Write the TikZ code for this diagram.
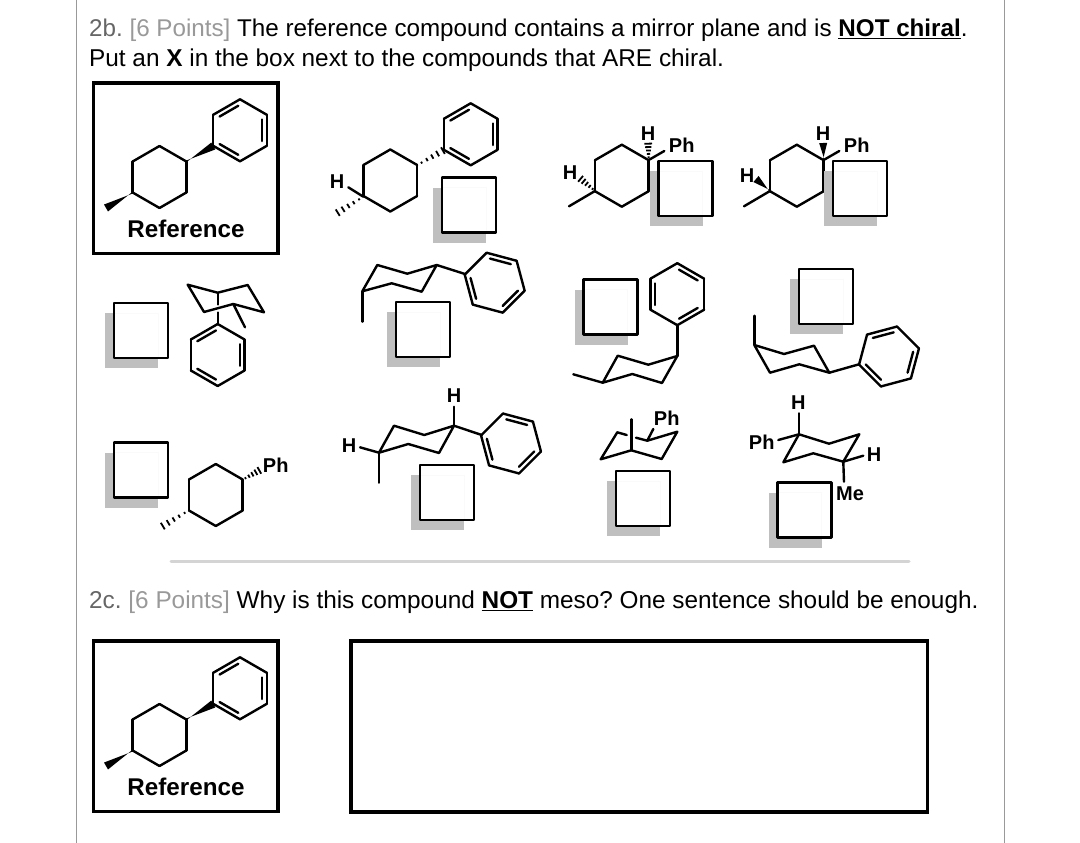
\documentclass[tikz,border=0pt]{standalone}
\usepackage{fontspec}
\setmainfont{Liberation Sans}
\usetikzlibrary{calc}
\definecolor{shadegray}{gray}{0.75}
\definecolor{rulegray}{gray}{0.83}
\definecolor{pagegray}{gray}{0.6}
\definecolor{faintgray}{gray}{0.98}
\definecolor{pointsgray}{gray}{0.6}
\definecolor{numbergray}{gray}{0.4}
\tikzset{
    bond/.style={line width=2.4pt,line cap=round,line join=round},
    framebox/.style={line width=3.7pt},
    chemlabel/.style={inner sep=0pt,font=\bfseries\fontsize{20}{20}\selectfont},
    headline/.style={inner sep=0pt,anchor=base west,font=\fontsize{#1}{25}\selectfont}
}
% answer box with its shadow, #1 #2 = top left
\newcommand{\answerbox}[2]{
    \fill[shadegray] (#1-9,#2+10) rectangle ++(53,55);
    \fill[white] (#1,#2) rectangle ++(54,55);
    \draw[faintgray,line width=.6pt] (#1,#2+10) -- (#1+44,#2+10) -- (#1+44,#2+55);
    \draw[bond] (#1,#2) rectangle ++(54,55);
}
% benzene ring, #1 #2 = centre, #3 = turn
\newcommand{\phring}[3]{
    \begin{scope}[shift={(#1,#2)}]
        \foreach \a in {30,90,...,330}
            \draw[bond] ({\a+#3}:31) -- ({\a+60+#3}:31);
        \foreach \m in {0,120,240}
            \draw[bond] ({\m+#3-26}:24.6) -- ({\m+#3+26}:24.6);
    \end{scope}
}
% flat cyclohexane, #1 #2 = centre
\newcommand{\flatring}[2]{
    \begin{scope}[shift={(#1,#2)}]
        \foreach \a in {30,90,...,330}
            \draw[bond] (\a:31) -- (\a+60:31);
    \end{scope}
}
\newcommand{\wedgebond}[2]{
    \fill ($#1!.8pt!90:#2$) -- ($#2!4pt!90:#1$) -- ($#2!4pt!-90:#1$) -- ($#1!.8pt!-90:#2$) -- cycle;
}
\newcommand{\hashbond}[2]{
    \foreach \t/\w in {.16/1,.36/1.7,.56/2.4,.76/3.1,.96/3.8} {
        \coordinate (hp) at ($#1!\t!#2$);
        \draw[line width=1.8pt] ($(hp)!\w pt!90:#2$) -- ($(hp)!\w pt!-90:#2$);
    }
}
\begin{document}
\frenchspacing
\begin{tikzpicture}[x=1pt,y=-1pt]
    \useasboundingbox (0,0) rectangle (1080,843);
    % page edges
    \draw[pagegray,line width=1pt] (76,0) -- (76,843);
    \draw[pagegray,line width=1pt] (1004,0) -- (1004,843);
    \draw[rulegray,line width=3pt,line cap=round] (171,561) -- (909,561);

    \node[headline=24.2] (headA) at (89,36.8) {\textcolor{numbergray}{2b.} \textcolor{pointsgray}{[6 Points]} The reference compound contains a mirror plane and is \textbf{\underline{NOT chiral}}.};
    \node[headline=24.35] (headB) at (89,66.7) {Put an \textbf{X} in the box next to the compounds that ARE chiral.};
    \node[headline=24.35] (headC) at (89,608.3) {\textcolor{numbergray}{2c.} \textcolor{pointsgray}{[6 Points]} Why is this compound \textbf{\underline{NOT}} meso? One sentence should be enough.};
    \draw[framebox] (351,641) rectangle (927.5,812);

    % reference frames
    \foreach \dy in {0,558} {
        \begin{scope}[shift={(0,\dy)}]
            \draw[framebox] (93.5,83) rectangle (278,253.5);
            \flatring{159.5}{177}
            \phring{240}{130.3}{0}
            \wedgebond{(186.4,161.3)}{(213.3,146)}
            \wedgebond{(132.6,192.7)}{(106,208)}
            \node[inner sep=0pt,font=\bfseries\fontsize{24.2}{25}\selectfont] (ref\dy) at (186,229) {Reference};
        \end{scope}
    }

    % top row
    \flatring{390.3}{180.5}
    \phring{470.7}{134.3}{0}
    \hashbond{(417.3,165)}{(444,150)}
    \hashbond{(363.3,196.7)}{(336.7,213.3)}
    \node[chemlabel] (hA) at (337,181.5) {H};
    \draw[bond] (363.3,196.7) -- (348.3,187.3);
    \answerbox{442}{177.5}

    \flatring{621.8}{175.7}
    \draw[bond] (648.7,160) -- (664.3,151);
    \hashbond{(648.7,160)}{(648.2,143)}
    \hashbond{(595,191)}{(580,178.3)}
    \draw[bond] (595,191) -- (569,206.3);
    \node[chemlabel] (hB) at (648,133.5) {H};
    \node[chemlabel] (hC) at (570,172.5) {H};
    \node[chemlabel] (phA) at (681.7,145.7) {Ph};
    \answerbox{658.5}{161}

    \flatring{796.8}{175.7}
    \draw[bond] (823.7,160) -- (839.3,151);
    \wedgebond{(823.7,160)}{(823.2,143)}
    \wedgebond{(770,191)}{(756,179)}
    \draw[bond] (770,191) -- (744,206.3);
    \node[chemlabel] (hD) at (823,133.5) {H};
    \node[chemlabel] (hE) at (747,175.5) {H};
    \node[chemlabel] (phB) at (856.7,145.7) {Ph};
    \answerbox{833}{161}

    % middle row
    \answerbox{114}{303}
    \draw[bond] (187.7,284.7) -- (217.7,292.7) -- (247.7,285) -- (264,312.3) -- (233.3,304) -- (204,312) -- cycle;
    \draw[bond] (217.7,292.7) -- (217.7,304.5);
    \draw[bond] (217.7,312.5) -- (217.7,324);
    \draw[bond] (233.3,304) -- (245,327.3);
    \phring{217.7}{355}{0}

    \draw[bond] (362.3,291.3) -- (377.3,265) -- (407.3,273.7) -- (436.7,265) -- (421.7,291.7) -- (391.7,283.3) -- cycle;
    \draw[bond] (362.3,291.3) -- (362.3,321.7);
    \draw[bond] (436.7,265) -- (465,274);
    \phring{494.7}{282.7}{45}
    \answerbox{396}{302}

    \answerbox{583.5}{279.5}
    \draw[bond] (677.3,356) -- (662,383) -- (632.3,374) -- (602.7,382.7) -- (617.7,355.7) -- (648.3,364.7) -- cycle;
    \draw[bond] (602.7,382.7) -- (573.3,374.3);
    \draw[bond] (677.3,356) -- (677.3,325);
    \phring{677.3}{294.2}{60}

    \answerbox{799}{269}
    \draw[bond] (754.3,345) -- (770,372.7) -- (799.3,364.3) -- (829.3,372.7) -- (814,345.7) -- (784,354) -- cycle;
    \draw[bond] (754.3,345) -- (754.3,315.7);
    \draw[bond] (829.3,372.7) -- (859,364.3);
    \phring{889}{356.5}{15}

    % bottom row
    \answerbox{114}{442.5}
    \flatring{215.8}{495}
    \hashbond{(242.7,479.7)}{(260,470)}
    \hashbond{(189,510.3)}{(161.7,526.7)}
    \node[chemlabel] (phC) at (275.7,465) {Ph};

    \draw[bond] (379,452.7) -- (394,425.7) -- (424.3,435) -- (454,425.7) -- (439,453) -- (408.3,444) -- cycle;
    \draw[bond] (379,452.7) -- (379,482.7);
    \draw[bond] (379,452.7) -- (360,447.3);
    \draw[bond] (454,425.7) -- (454,406.7);
    \draw[bond] (454,425.7) -- (481.7,435);
    \node[chemlabel] (hF) at (349,446) {H};
    \node[chemlabel] (hG) at (454,395.7) {H};
    \phring{511}{443.5}{45}
    \answerbox{420}{465}

    \draw[bond] (626.7,435) -- (617.3,432.3) -- (600.7,459.3) -- (631.3,450.3) -- (661.7,459) -- (677.3,431.7) -- (647.3,440.7) -- (636,437.7);
    \draw[bond] (631.3,450.3) -- (631.3,419.3);
    \draw[bond] (647.3,440.7) -- (653.3,429);
    \node[chemlabel] (phD) at (666.7,418.3) {Ph};
    \answerbox{616}{471}

    \draw[bond] (783.3,462.3) -- (799,434.3) -- (829,443.7) -- (859.3,434.3) -- (843.3,461.7) -- (813.3,453.3) -- cycle;
    \draw[bond] (799,434.3) -- (799,413.3);
    \draw[bond] (799,434.3) -- (778.3,440);
    \draw[bond] (843.3,461.7) -- (863.3,455.7);
    \draw[bond] (843.3,461.7) -- (844,481.7);
    \node[chemlabel] (hH) at (798.3,402.3) {H};
    \node[chemlabel] (phE) at (761.7,442.7) {Ph};
    \node[chemlabel] (hI) at (874,454.3) {H};
    \node[chemlabel] (meA) at (850,493.3) {Me};
    \answerbox{777.5}{482.5}
\end{tikzpicture}
\end{document}
